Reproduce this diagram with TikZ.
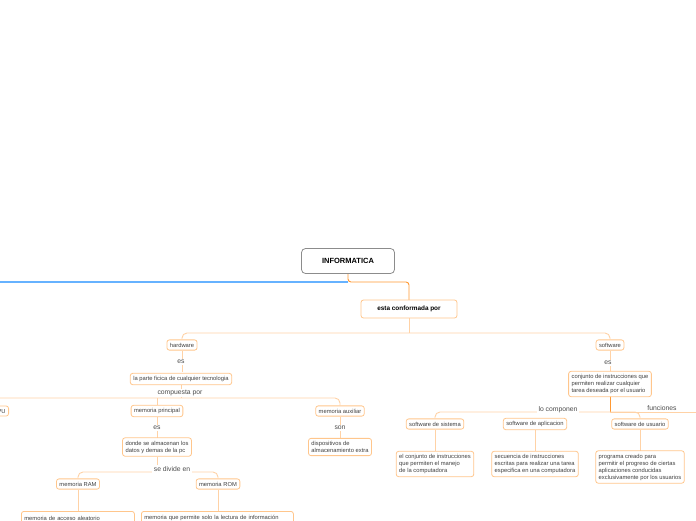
\documentclass[tikz,border=0pt]{standalone}
\usepackage{fontspec}
\setmainfont{Liberation Sans}
\begin{document}
\begin{tikzpicture}[x=1pt,y=-1pt,
  box/.style={draw=orange!45, line width=0.8pt, rounded corners=2.5pt, fill=white, font=\fontsize{5.8}{7}\selectfont, text=black!75, inner sep=3pt, align=left},
  lbl/.style={fill=white, font=\fontsize{6.8}{7.5}\selectfont, text=black!70, inner sep=1.5pt},
  ln/.style={draw=orange!35, line width=0.9pt, rounded corners=5pt},
  dk/.style={draw=orange!80, line width=0.9pt, rounded corners=3pt}]
\useasboundingbox (0,0) rectangle (696,520);
% lines
\draw[blue!50!cyan!60, line width=1.2pt] (0,282) -- (348,282);
\draw[dk] (348,273) -- (348,282) -- (409,282) -- (409,300);
\draw[ln] (409,318) -- (409,333);
\draw[ln] (182,339) -- (182,333) -- (610,333) -- (610,339);
\draw[ln] (182,351) -- (182,372);
\draw[ln] (181,385) -- (181,398);
\draw[ln] (0,398) -- (340,398) -- (340,405);
\draw[ln] (157,398) -- (157,405);
\draw[ln] (157,417) -- (157,438);
\draw[ln] (157,457) -- (157,472);
\draw[ln] (78,478) -- (78,472) -- (218,472) -- (218,478);
\draw[ln] (78,490) -- (78,511);
\draw[ln] (218,490) -- (218,511);
\draw[ln] (340,417) -- (340,438);
\draw[ln] (610,351) -- (610,372);
\draw[dk] (610,396) -- (610,412);
\draw[ln] (435,418) -- (435,412) -- (640,412) -- (640,418);
\draw[ln] (610,412) -- (696,412);
\draw[ln] (435,430) -- (435,451);
\draw[ln] (535,430) -- (535,451);
\draw[ln] (640,430) -- (640,451);
% nodes
\node[draw=black!45, line width=0.8pt, rounded corners=4pt, fill=white, minimum width=93pt, minimum height=25pt, font=\bfseries\fontsize{7.5}{9}\selectfont] (inf) at (348,261) {INFORMATICA};
\node[box, font=\bfseries\fontsize{6.4}{7}\selectfont, text=black, minimum width=96pt, minimum height=18pt, align=center] (esta) at (409,309) {esta conformada por};
\node[box] (hw) at (182,345) {hardware};
\node[lbl] (es1) at (181,362) {es};
\node[box] (pf) at (181,379) {la parte ficica de cualquier tecnologia};
\node[lbl] (cp) at (180,393) {compuesta por};
\node[box, anchor=east] (cpu) at (9,411) {CPU};
\node[box] (mp) at (157,411) {memoria principal};
\node[lbl] (es2) at (157,428) {es};
\node[box] (dn) at (157,447) {donde se almacenan los\\datos y demas de la pc};
\node[lbl] (sd) at (172,469) {se divide en};
\node[box] (ram) at (78,484) {memoria RAM};
\node[box] (rom) at (218,484) {memoria ROM};
\node[box, anchor=north west, text width=107pt, minimum height=14pt] (ramd) at (21,511) {memoria de acceso aleatorio};
\node[box, anchor=north west, text width=146pt, minimum height=14pt] (romd) at (141,511) {memoria que permite solo la lectura de información};
\node[box] (ma) at (340,411) {memoria auxiliar};
\node[lbl] (son) at (340,428) {son};
\node[box] (ds) at (340,447) {dispositivos de\\almacenamiento extra};
\node[box] (sw) at (610,345) {software};
\node[lbl] (es3) at (608,363) {es};
\node[box] (cj) at (610,384) {conjunto de instrucciones que\\permiten realizar cualquier\\tarea deseada por el usuario};
\node[lbl] (lc) at (558,410) {lo componen};
\node[lbl] (fn) at (662,408) {funciones};
\node[box] (ss) at (435,424) {software de sistema};
\node[box] (sa) at (535,424) {software de aplicacion};
\node[box] (su) at (640,424) {software de usuario};
\node[box] (ssd) at (435,464) {el conjunto de instrucciones\\que permiten el manejo\\de la computadora};
\node[box] (sad) at (535,464) {secuencia de instrucciones\\escritas para realizar una tarea\\especifica en una computadora};
\node[box] (sud) at (640,467) {programa creado para\\permitir el progreso de ciertas\\aplicaciones conducidas\\exclusivamente por los usuarios};
\end{tikzpicture}
\end{document}
